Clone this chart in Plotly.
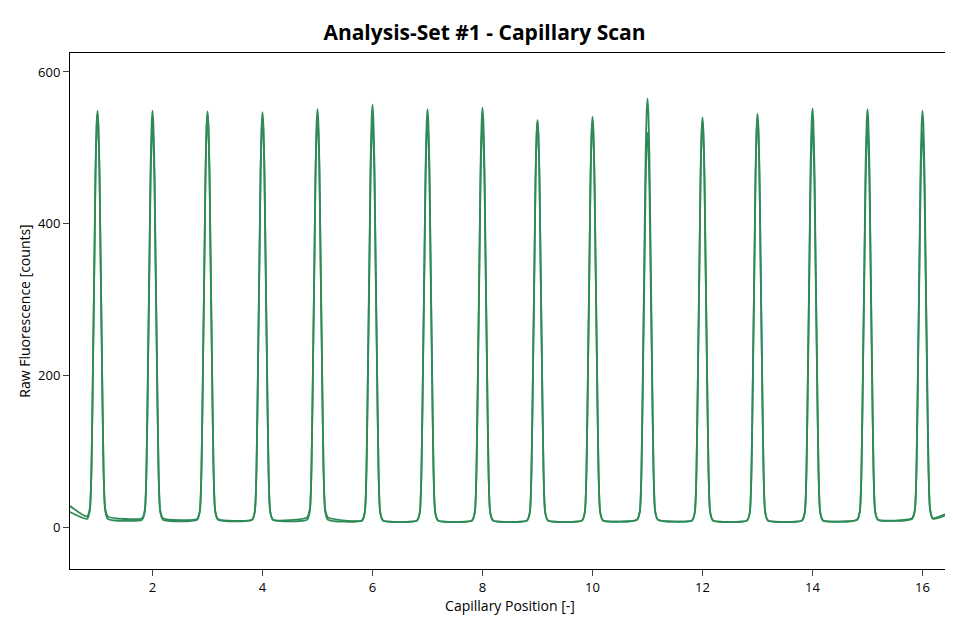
import plotly.graph_objects as go

positions = list(range(1, 17))
heights_a = [549, 549, 548, 547, 551, 557, 551, 553, 537, 541, 565, 540, 545, 552, 551, 549]
heights_b = [545, 530, 545, 540, 540, 535, 535, 533, 535, 535, 520, 535, 540, 528, 527, 522]
base_a = [14, 12, 11, 10, 10, 9, 9, 9, 9, 9, 10, 9, 9, 9, 10, 12]
base_b = [11, 10, 10, 10, 13, 9, 9, 9, 9, 9, 10, 9, 9, 9, 10, 11]
start_a, start_b = 28, 20
end_a, end_b = 20, 18
# peak profile (offset in position units, fraction of height)
prof_dx = [-0.19, -0.14, -0.11, -0.08, -0.055, -0.035, -0.015, 0, 0.015, 0.035, 0.055, 0.08, 0.11, 0.14, 0.19]
prof_f = [0.0, 0.02, 0.12, 0.40, 0.65, 0.86, 0.97, 1.0, 0.97, 0.86, 0.65, 0.40, 0.12, 0.02, 0.0]

def build(h, b, s, e):
    xs, ys = [0.5], [s]
    for i, p in enumerate(positions):
        for dx, f in zip(prof_dx, prof_f):
            xs.append(p + dx)
            ys.append(b[i] + f * (h[i] - b[i]))
    xs.append(16.5); ys.append(e)
    return xs, ys

fig = go.Figure()
for h, b, s, e in [(heights_b, base_b, start_b, end_b), (heights_a, base_a, start_a, end_a)]:
    xs, ys = build(h, b, s, e)
    fig.add_trace(go.Scatter(x=xs, y=ys, mode="lines", line=dict(color="#2e8b57", width=1.8, shape="spline", smoothing=0.6), showlegend=False))

fig.update_layout(
    width=953, height=621, plot_bgcolor="white", paper_bgcolor="white",
    margin=dict(l=62, r=11, t=45, b=60, autoexpand=False),
    title=dict(text="<b>Analysis-Set #1 - Capillary Scan</b>", x=0.5, xanchor="center", y=0.96, yanchor="middle", font=dict(size=21, color="black", family="Open Sans")),
    font=dict(family="Open Sans", size=13, color="black"),
)
fig.update_xaxes(range=[0.5, 16.5], tickvals=list(range(2, 17, 2)), showgrid=False, zeroline=False, automargin=False,
                 showline=True, linecolor="black", mirror=True, ticks="outside", ticklen=6,
                 title=dict(text="Capillary Position [-]", font=dict(size=14), standoff=6))
fig.update_yaxes(range=[-55, 625], tickvals=[0, 200, 400, 600], showgrid=False, zeroline=False, automargin=False,
                 showline=True, linecolor="black", mirror=True, ticks="outside", ticklen=6,
                 title=dict(text="Raw Fluorescence [counts]", font=dict(size=14), standoff=4))
fig.write_html("out.html")
